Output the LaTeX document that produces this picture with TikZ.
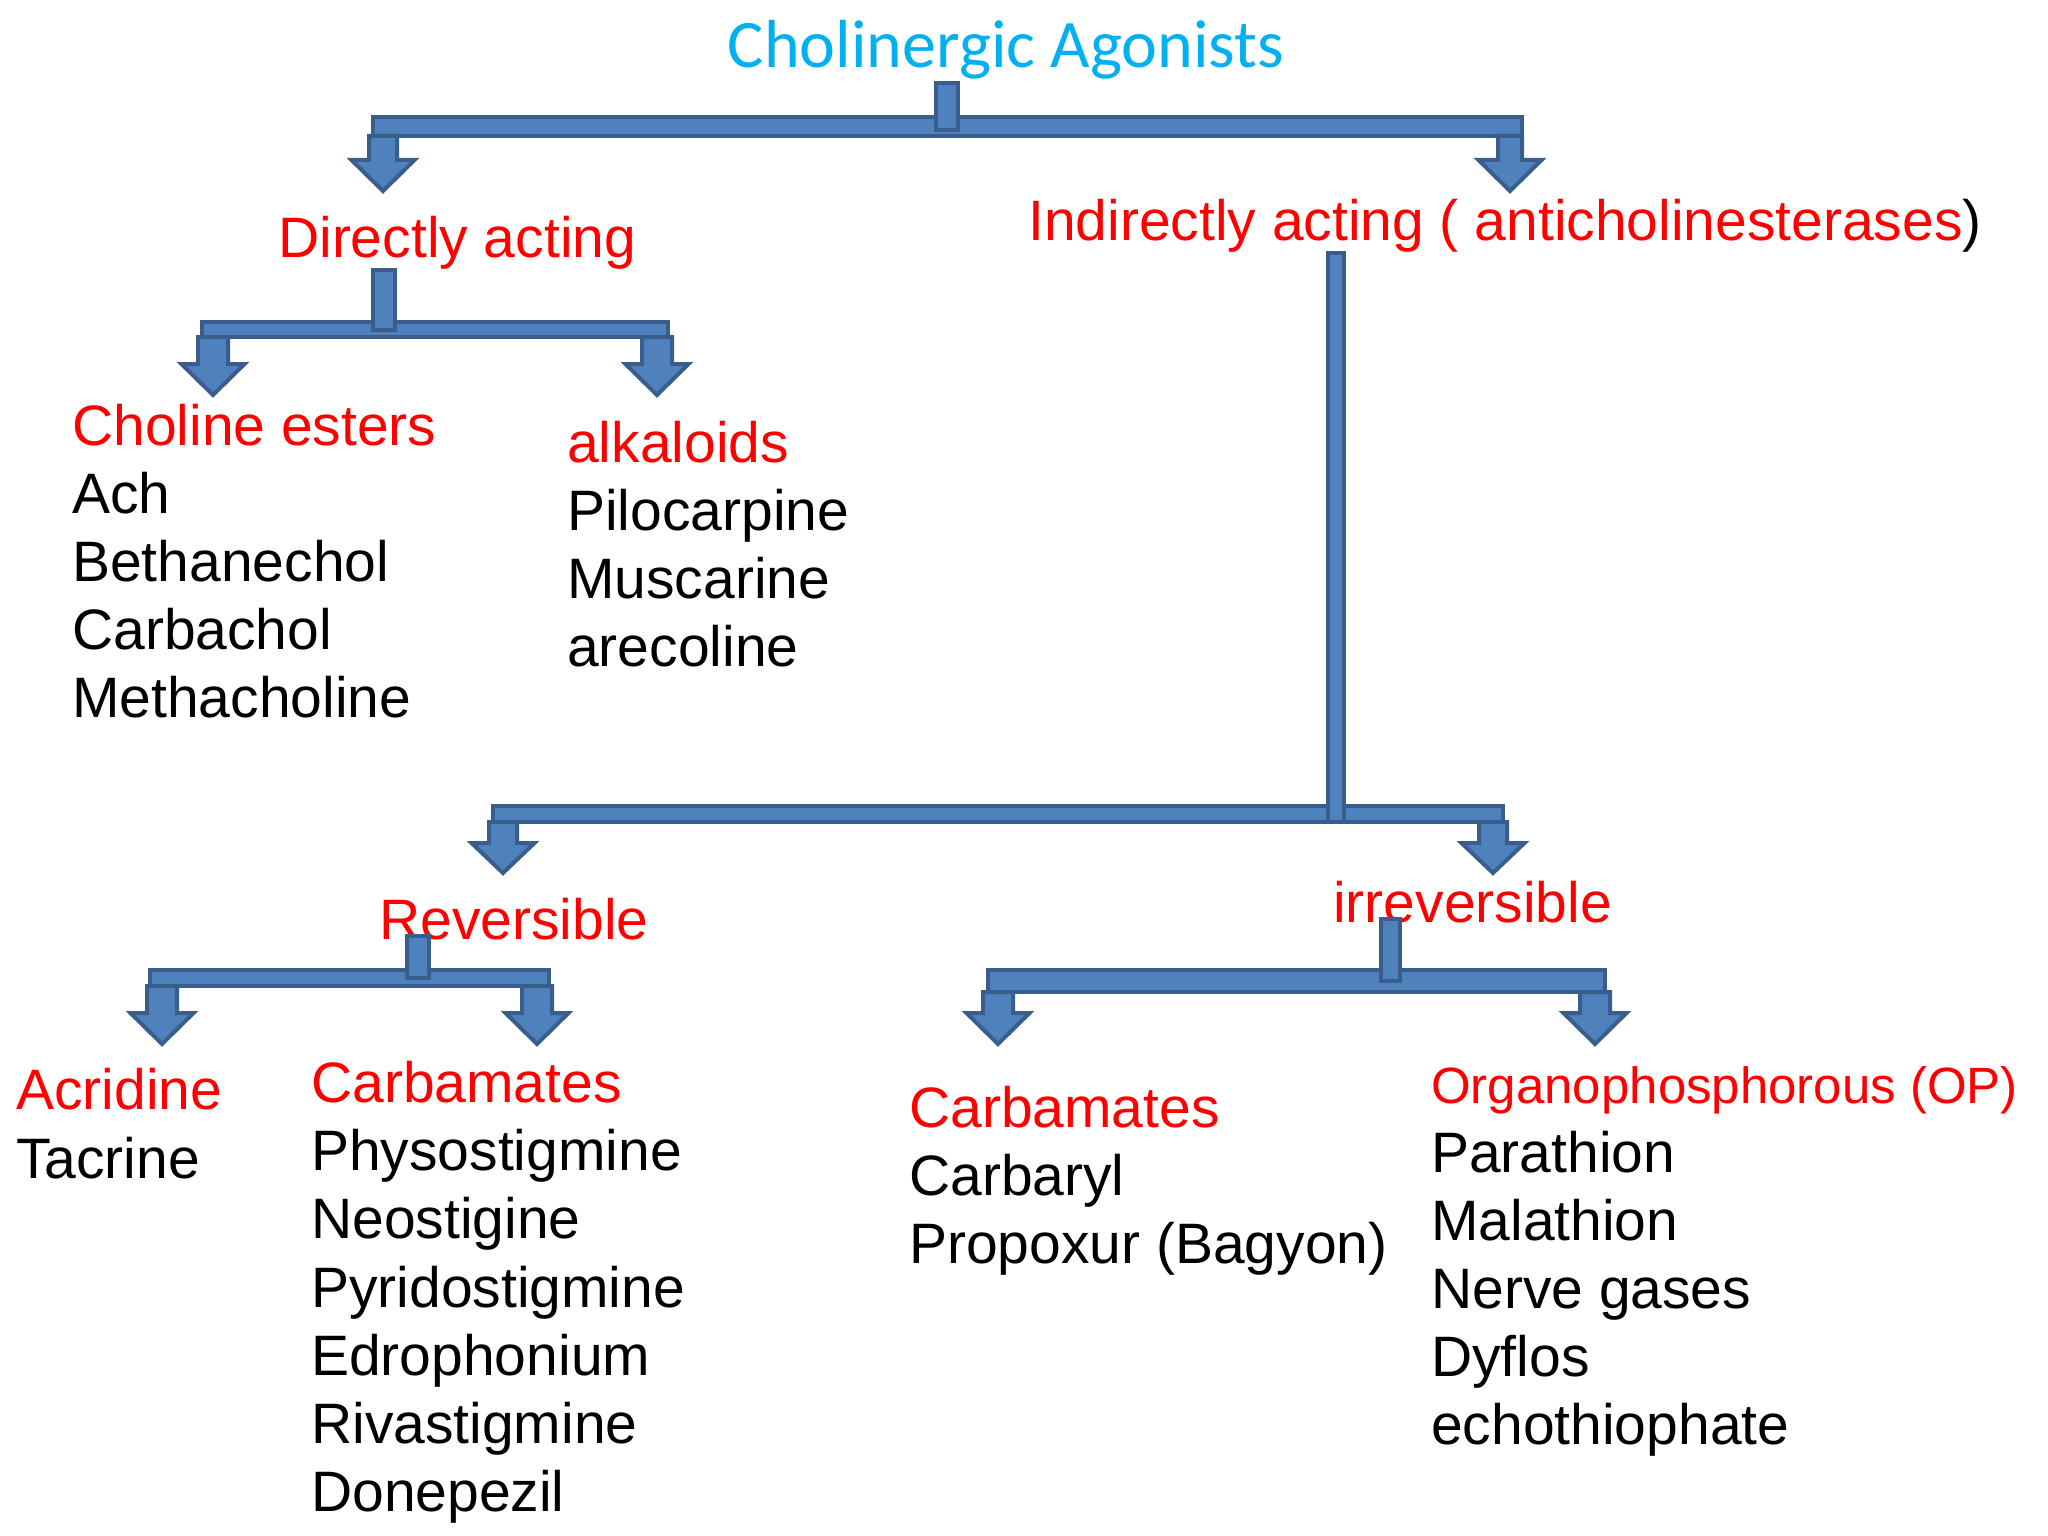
\documentclass[tikz,border=0pt]{standalone}
\usepackage{fontspec}
\setmainfont{Liberation Sans}
\newfontfamily\titlefont{Carlito}
\definecolor{arrowfill}{HTML}{4F81BD}
\definecolor{arrowedge}{HTML}{3A5E8C}
\definecolor{titlecyan}{HTML}{00B0F0}
\definecolor{headred}{HTML}{FF0000}
\newcommand\dnarrow[6]{%
  \draw[conn] ({#1-#4/2},#2) -- ({#1+#4/2},#2) -- ({#1+#4/2},#5) -- ({#1+#6/2},#5)
    -- (#1,#3) -- ({#1-#6/2},#5) -- ({#1-#4/2},#5) -- cycle;}
\begin{document}
\begin{tikzpicture}[x=1pt,y=-1pt,
  conn/.style={fill=arrowfill, draw=arrowedge, line width=4pt, line join=miter},
  lbl/.style={anchor=base west, inner sep=0pt, font=\fontsize{57}{68}\selectfont, text=black},
  head/.style={lbl, text=headred},
  smallhead/.style={head, font=\fontsize{51}{60}\selectfont},
]
\fill[white] (0,0) rectangle (2048,1536);
\useasboundingbox (0,0) rectangle (2048,1536);

% ---------- labels ----------
\node[anchor=base, inner sep=0pt, text=titlecyan, font=\titlefont\fontsize{68}{80}\selectfont] (title) at (1006,68) {Cholinergic Agonists};
\node[head] (direct) at (278,257) {Directly acting};
\node[head] (indirect) at (1028,240) {Indirectly acting ( anticholinesterases\textcolor{black}{)}};

\node[head] (ce) at (72,445) {Choline esters};
\node[lbl] (ce1) at (72,513) {Ach};
\node[lbl] (ce2) at (72,581) {Bethanechol};
\node[lbl] (ce3) at (72,649) {Carbachol};
\node[lbl] (ce4) at (72,717) {Methacholine};

\node[head] (alk) at (567,462) {alkaloids};
\node[lbl] (alk1) at (567,530) {Pilocarpine};
\node[lbl] (alk2) at (567,598) {Muscarine};
\node[lbl] (alk3) at (567,666) {arecoline};

\node[head] (rev) at (379,939) {Reversible};
\node[head] (irr) at (1333,922) {irreversible};

\node[head] (acr) at (16,1109) {Acridine};
\node[lbl] (acr1) at (16,1178) {Tacrine};

\node[head] (carb) at (311,1102) {Carbamates};
\node[lbl] (carb1) at (311,1170) {Physostigmine};
\node[lbl] (carb2) at (311,1238) {Neostigine};
\node[lbl] (carb3) at (311,1307) {Pyridostigmine};
\node[lbl] (carb4) at (311,1375) {Edrophonium};
\node[lbl] (carb5) at (311,1443) {Rivastigmine};
\node[lbl] (carb6) at (311,1511) {Donepezil};

\node[head] (carbi) at (909,1127) {Carbamates};
\node[lbl] (carbi1) at (909,1195) {Carbaryl};
\node[lbl] (carbi2) at (909,1263) {Propoxur (Bagyon)};

\node[smallhead] (op) at (1431,1103) {Organophosphorous (OP)};
\node[lbl] (op1) at (1431,1172) {Parathion};
\node[lbl] (op2) at (1431,1240) {Malathion};
\node[lbl] (op3) at (1431,1308) {Nerve gases};
\node[lbl] (op4) at (1431,1376) {Dyflos};
\node[lbl] (op5) at (1431,1444) {echothiophate};

% ---------- connectors ----------
% top
\draw[conn] (373,117) rectangle (1522,136);
\draw[conn] (936,83) rectangle (958,130);
\dnarrow{383}{136}{191}{28}{160}{63}
\dnarrow{1510}{136}{191}{24}{160}{63}

% directly acting
\draw[conn] (202,322) rectangle (668,337);
\draw[conn] (373,270) rectangle (395,330);
\dnarrow{213}{337}{395}{30}{364}{63}
\dnarrow{657}{337}{395}{30}{364}{63}

% indirectly acting
\draw[conn] (493,806) rectangle (1503,822);
\draw[conn] (1328,253) rectangle (1344,822);
\dnarrow{503}{822}{873}{28}{843}{63}
\dnarrow{1493}{822}{873}{28}{843}{63}

% reversible
\draw[conn] (150,970) rectangle (549,986);
\draw[conn] (407,936) rectangle (429,978);
\dnarrow{162}{986}{1044}{30}{1013}{63}
\dnarrow{537}{986}{1044}{30}{1013}{63}

% irreversible
\draw[conn] (988,970) rectangle (1605,992);
\draw[conn] (1381,919) rectangle (1400,981);
\dnarrow{998}{992}{1044}{30}{1013}{63}
\dnarrow{1595}{992}{1044}{30}{1013}{63}
\end{tikzpicture}
\end{document}
